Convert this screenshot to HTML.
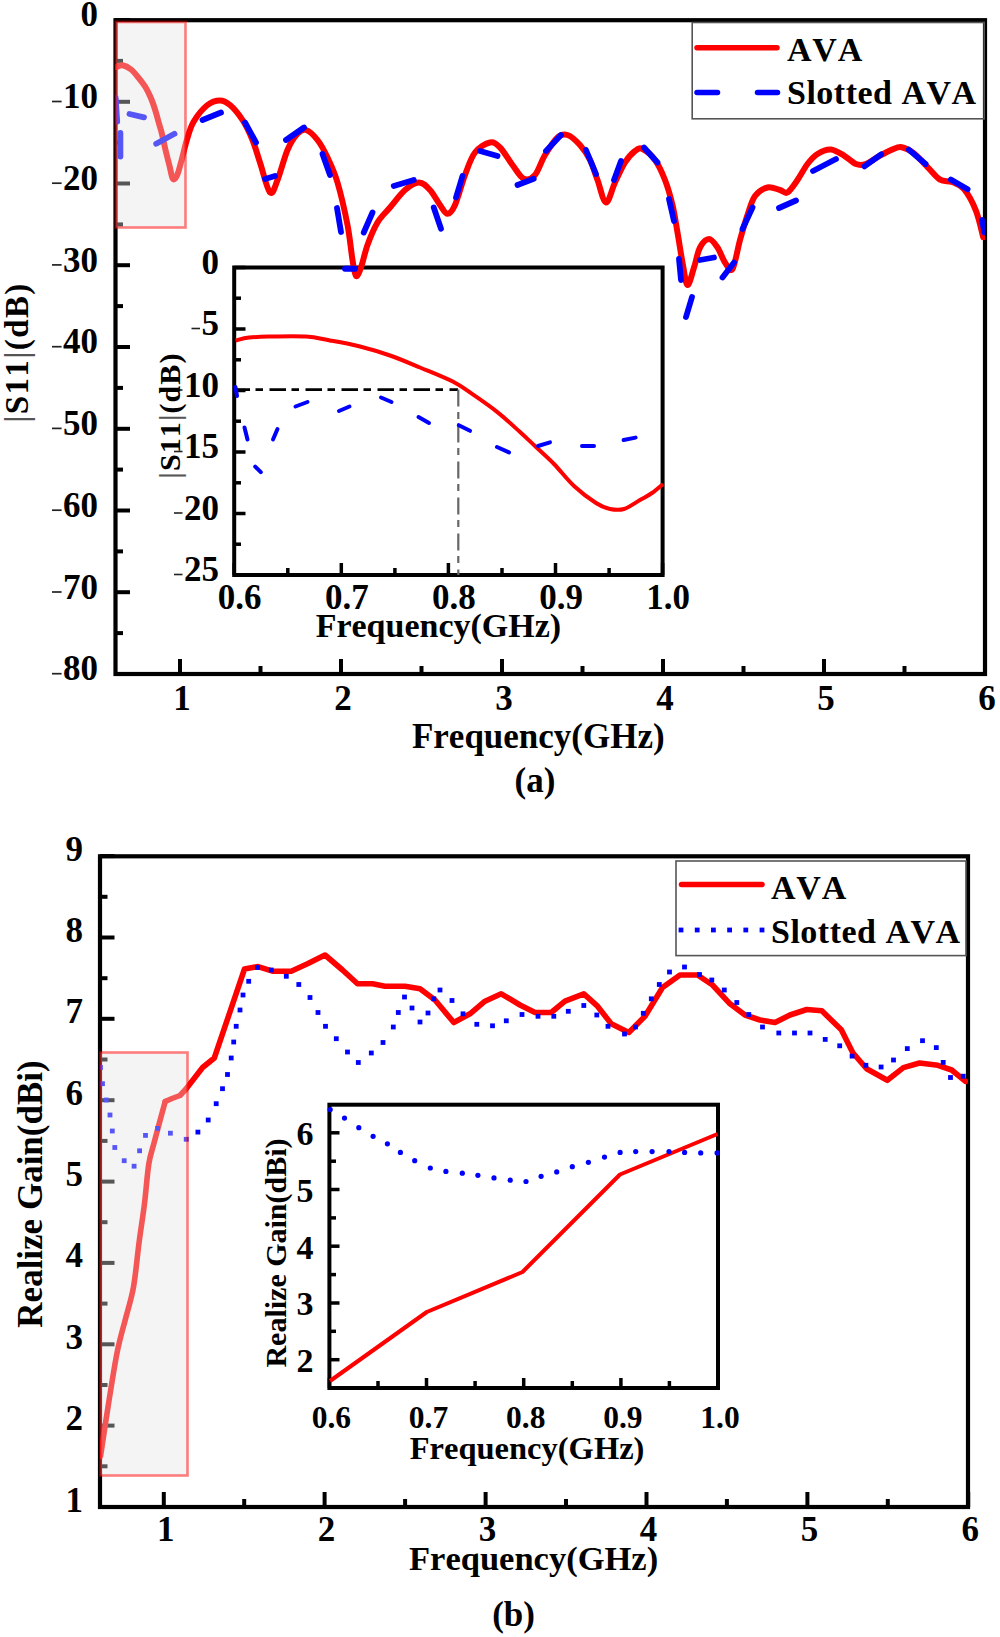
<!DOCTYPE html>
<html><head><meta charset="utf-8"><style>
html,body{margin:0;padding:0;background:#fff;}
svg{display:block;}
text{font-family:"Liberation Serif", serif;font-weight:bold;fill:#000;font-kerning:none;}
</style></head><body>
<svg width="1000" height="1637" viewBox="0 0 1000 1637">
<rect width="1000" height="1637" fill="#fff"/>
<rect x="234.2" y="267.5" width="428.4" height="307.5" fill="none" stroke="#000" stroke-width="4"/>
<line x1="234.2" y1="267.5" x2="245.5" y2="267.5" stroke="#000" stroke-width="3.5"/>
<line x1="234.2" y1="329.0" x2="245.5" y2="329.0" stroke="#000" stroke-width="3.5"/>
<line x1="234.2" y1="390.5" x2="245.5" y2="390.5" stroke="#000" stroke-width="3.5"/>
<line x1="234.2" y1="452.0" x2="245.5" y2="452.0" stroke="#000" stroke-width="3.5"/>
<line x1="234.2" y1="513.5" x2="245.5" y2="513.5" stroke="#000" stroke-width="3.5"/>
<line x1="234.2" y1="575.0" x2="245.5" y2="575.0" stroke="#000" stroke-width="3.5"/>
<line x1="234.2" y1="298.2" x2="241" y2="298.2" stroke="#000" stroke-width="3.5"/>
<line x1="234.2" y1="359.8" x2="241" y2="359.8" stroke="#000" stroke-width="3.5"/>
<line x1="234.2" y1="421.2" x2="241" y2="421.2" stroke="#000" stroke-width="3.5"/>
<line x1="234.2" y1="482.8" x2="241" y2="482.8" stroke="#000" stroke-width="3.5"/>
<line x1="234.2" y1="544.2" x2="241" y2="544.2" stroke="#000" stroke-width="3.5"/>
<line x1="234.2" y1="575" x2="234.2" y2="563" stroke="#000" stroke-width="3.5"/>
<line x1="341.3" y1="575" x2="341.3" y2="563" stroke="#000" stroke-width="3.5"/>
<line x1="448.4" y1="575" x2="448.4" y2="563" stroke="#000" stroke-width="3.5"/>
<line x1="555.5" y1="575" x2="555.5" y2="563" stroke="#000" stroke-width="3.5"/>
<line x1="662.6" y1="575" x2="662.6" y2="563" stroke="#000" stroke-width="3.5"/>
<line x1="287.8" y1="575" x2="287.8" y2="568" stroke="#000" stroke-width="3.5"/>
<line x1="394.9" y1="575" x2="394.9" y2="568" stroke="#000" stroke-width="3.5"/>
<line x1="502.0" y1="575" x2="502.0" y2="568" stroke="#000" stroke-width="3.5"/>
<line x1="609.1" y1="575" x2="609.1" y2="568" stroke="#000" stroke-width="3.5"/>
<text x="219" y="273.5" font-size="35" text-anchor="end" >0</text>
<text x="219" y="335.0" font-size="35" text-anchor="end" >5</text>
<line x1="191.5" y1="328.5" x2="200.0" y2="328.5" stroke="#222" stroke-width="1.6"/>
<text x="219" y="396.5" font-size="35" text-anchor="end" >10</text>
<line x1="174.0" y1="390.0" x2="182.5" y2="390.0" stroke="#222" stroke-width="1.6"/>
<text x="219" y="458.0" font-size="35" text-anchor="end" >15</text>
<line x1="174.0" y1="451.5" x2="182.5" y2="451.5" stroke="#222" stroke-width="1.6"/>
<text x="219" y="519.5" font-size="35" text-anchor="end" >20</text>
<line x1="174.0" y1="513.0" x2="182.5" y2="513.0" stroke="#222" stroke-width="1.6"/>
<text x="219" y="581.0" font-size="35" text-anchor="end" >25</text>
<line x1="174.0" y1="574.5" x2="182.5" y2="574.5" stroke="#222" stroke-width="1.6"/>
<text x="239.7" y="609.2" font-size="35" text-anchor="middle" >0.6</text>
<text x="346.8" y="609.2" font-size="35" text-anchor="middle" >0.7</text>
<text x="453.9" y="609.2" font-size="35" text-anchor="middle" >0.8</text>
<text x="561.0" y="609.2" font-size="35" text-anchor="middle" >0.9</text>
<text x="668.1" y="609.2" font-size="35" text-anchor="middle" >1.0</text>
<text x="438.4" y="636.5" font-size="34" text-anchor="middle" >Frequency(GHz)</text>
<text transform="translate(179.8,415.6) rotate(-90)" x="0" y="0" font-size="30" letter-spacing="1.05" text-anchor="middle"><tspan fill="#555">|</tspan>S11<tspan fill="#555">|</tspan>(dB)</text>
<line x1="235" y1="389.6" x2="458" y2="389.6" stroke="#000" stroke-width="2.6" stroke-dasharray="16.5 5.5 7.5 6.5" stroke-dashoffset="1.5"/>
<line x1="458.3" y1="389.6" x2="458.3" y2="575" stroke="#666" stroke-width="2.2" stroke-dasharray="17 5.5 7 6.5"/>
<path d="M235.5,340.5 C237.8,340.0 243.2,338.1 249.0,337.5 C254.8,336.9 260.5,336.8 270.0,336.6 C279.5,336.5 296.0,336.0 306.0,336.6 C316.0,337.2 321.0,338.9 330.0,340.5 C339.0,342.1 350.0,344.0 360.0,346.5 C370.0,349.0 380.0,352.0 390.0,355.5 C400.0,359.0 409.5,363.1 420.0,367.5 C430.5,371.9 444.4,377.3 453.2,381.8 C462.0,386.3 465.3,389.3 472.8,394.4 C480.3,399.5 490.1,406.3 498.0,412.6 C505.9,418.9 513.7,426.3 520.0,432.0 C526.3,437.7 530.3,441.7 536.0,447.0 C541.7,452.3 547.7,457.5 554.0,464.0 C560.3,470.5 567.0,479.5 574.0,486.0 C581.0,492.5 590.0,499.2 596.0,503.0 C602.0,506.8 605.3,508.0 610.0,509.0 C614.7,510.0 619.0,510.5 624.0,509.0 C629.0,507.5 635.3,502.7 640.0,500.0 C644.7,497.3 648.2,495.7 652.0,493.0 C655.8,490.3 661.2,485.5 663.0,484.0" fill="none" stroke="#f00" stroke-width="4" stroke-linejoin="round"/>
<line x1="235.5" y1="387" x2="237" y2="396" stroke="#00f" stroke-width="4" stroke-linecap="round"/>
<line x1="244.5" y1="427.5" x2="247.5" y2="439.5" stroke="#00f" stroke-width="4" stroke-linecap="round"/>
<line x1="255.2" y1="466.6" x2="260.8" y2="472.2" stroke="#00f" stroke-width="4" stroke-linecap="round"/>
<line x1="273" y1="439.5" x2="277.5" y2="429" stroke="#00f" stroke-width="4" stroke-linecap="round"/>
<line x1="295.5" y1="406.5" x2="307.5" y2="402" stroke="#00f" stroke-width="4" stroke-linecap="round"/>
<line x1="339" y1="411" x2="349.5" y2="406.5" stroke="#00f" stroke-width="4" stroke-linecap="round"/>
<line x1="381" y1="397.5" x2="391.5" y2="402" stroke="#00f" stroke-width="4" stroke-linecap="round"/>
<line x1="418.5" y1="417" x2="429" y2="423" stroke="#00f" stroke-width="4" stroke-linecap="round"/>
<line x1="458.8" y1="425.2" x2="470" y2="430.8" stroke="#00f" stroke-width="4" stroke-linecap="round"/>
<line x1="497" y1="447" x2="509" y2="452.4" stroke="#00f" stroke-width="4" stroke-linecap="round"/>
<line x1="538" y1="446" x2="550" y2="442.4" stroke="#00f" stroke-width="4" stroke-linecap="round"/>
<line x1="582" y1="446" x2="594" y2="446" stroke="#00f" stroke-width="4" stroke-linecap="round"/>
<line x1="623.6" y1="440" x2="635.6" y2="437.6" stroke="#00f" stroke-width="4" stroke-linecap="round"/>
<rect x="115.5" y="20.2" width="869.5" height="653.8" fill="none" stroke="#000" stroke-width="4.2"/>
<line x1="115.5" y1="20.0" x2="130" y2="20.0" stroke="#000" stroke-width="4"/>
<line x1="115.5" y1="101.8" x2="130" y2="101.8" stroke="#000" stroke-width="4"/>
<line x1="115.5" y1="183.5" x2="130" y2="183.5" stroke="#000" stroke-width="4"/>
<line x1="115.5" y1="265.2" x2="130" y2="265.2" stroke="#000" stroke-width="4"/>
<line x1="115.5" y1="347.0" x2="130" y2="347.0" stroke="#000" stroke-width="4"/>
<line x1="115.5" y1="428.8" x2="130" y2="428.8" stroke="#000" stroke-width="4"/>
<line x1="115.5" y1="510.5" x2="130" y2="510.5" stroke="#000" stroke-width="4"/>
<line x1="115.5" y1="592.2" x2="130" y2="592.2" stroke="#000" stroke-width="4"/>
<line x1="115.5" y1="674.0" x2="130" y2="674.0" stroke="#000" stroke-width="4"/>
<line x1="115.5" y1="60.9" x2="123" y2="60.9" stroke="#000" stroke-width="4"/>
<line x1="115.5" y1="142.6" x2="123" y2="142.6" stroke="#000" stroke-width="4"/>
<line x1="115.5" y1="224.4" x2="123" y2="224.4" stroke="#000" stroke-width="4"/>
<line x1="115.5" y1="306.1" x2="123" y2="306.1" stroke="#000" stroke-width="4"/>
<line x1="115.5" y1="387.9" x2="123" y2="387.9" stroke="#000" stroke-width="4"/>
<line x1="115.5" y1="469.6" x2="123" y2="469.6" stroke="#000" stroke-width="4"/>
<line x1="115.5" y1="551.4" x2="123" y2="551.4" stroke="#000" stroke-width="4"/>
<line x1="115.5" y1="633.1" x2="123" y2="633.1" stroke="#000" stroke-width="4"/>
<line x1="180.0" y1="674" x2="180.0" y2="659" stroke="#000" stroke-width="4"/>
<line x1="341.0" y1="674" x2="341.0" y2="659" stroke="#000" stroke-width="4"/>
<line x1="502.0" y1="674" x2="502.0" y2="659" stroke="#000" stroke-width="4"/>
<line x1="663.0" y1="674" x2="663.0" y2="659" stroke="#000" stroke-width="4"/>
<line x1="824.0" y1="674" x2="824.0" y2="659" stroke="#000" stroke-width="4"/>
<line x1="985.0" y1="674" x2="985.0" y2="659" stroke="#000" stroke-width="4"/>
<line x1="260.5" y1="674" x2="260.5" y2="666" stroke="#000" stroke-width="4"/>
<line x1="421.5" y1="674" x2="421.5" y2="666" stroke="#000" stroke-width="4"/>
<line x1="582.5" y1="674" x2="582.5" y2="666" stroke="#000" stroke-width="4"/>
<line x1="743.5" y1="674" x2="743.5" y2="666" stroke="#000" stroke-width="4"/>
<line x1="904.5" y1="674" x2="904.5" y2="666" stroke="#000" stroke-width="4"/>
<text x="98" y="26.4" font-size="35" text-anchor="end" >0</text>
<text x="98" y="108.2" font-size="35" text-anchor="end" >10</text>
<line x1="52" y1="101.5" x2="61.6" y2="101.5" stroke="#222" stroke-width="1.7"/>
<text x="98" y="189.9" font-size="35" text-anchor="end" >20</text>
<line x1="52" y1="183.2" x2="61.6" y2="183.2" stroke="#222" stroke-width="1.7"/>
<text x="98" y="271.6" font-size="35" text-anchor="end" >30</text>
<line x1="52" y1="264.9" x2="61.6" y2="264.9" stroke="#222" stroke-width="1.7"/>
<text x="98" y="353.4" font-size="35" text-anchor="end" >40</text>
<line x1="52" y1="346.7" x2="61.6" y2="346.7" stroke="#222" stroke-width="1.7"/>
<text x="98" y="435.1" font-size="35" text-anchor="end" >50</text>
<line x1="52" y1="428.4" x2="61.6" y2="428.4" stroke="#222" stroke-width="1.7"/>
<text x="98" y="516.9" font-size="35" text-anchor="end" >60</text>
<line x1="52" y1="510.2" x2="61.6" y2="510.2" stroke="#222" stroke-width="1.7"/>
<text x="98" y="598.6" font-size="35" text-anchor="end" >70</text>
<line x1="52" y1="592.0" x2="61.6" y2="592.0" stroke="#222" stroke-width="1.7"/>
<text x="98" y="680.4" font-size="35" text-anchor="end" >80</text>
<line x1="52" y1="673.7" x2="61.6" y2="673.7" stroke="#222" stroke-width="1.7"/>
<text x="182.0" y="710" font-size="35" text-anchor="middle" >1</text>
<text x="343.0" y="710" font-size="35" text-anchor="middle" >2</text>
<text x="504.0" y="710" font-size="35" text-anchor="middle" >3</text>
<text x="665.0" y="710" font-size="35" text-anchor="middle" >4</text>
<text x="826.0" y="710" font-size="35" text-anchor="middle" >5</text>
<text x="987.0" y="710" font-size="35" text-anchor="middle" >6</text>
<text x="538.3" y="748.4" font-size="35" text-anchor="middle" >Frequency(GHz)</text>
<text x="535" y="791.5" font-size="35" text-anchor="middle" >(a)</text>
<text transform="translate(28.3,352.6) rotate(-90)" x="0" y="0" font-size="33" letter-spacing="1.35" text-anchor="middle"><tspan fill="#555">|</tspan>S11<tspan fill="#555">|</tspan>(dB)</text>
<defs><clipPath id="ct"><rect x="115" y="20" width="870" height="654"/></clipPath><clipPath id="cb"><rect x="100" y="856" width="868" height="651"/></clipPath></defs>
<g clip-path="url(#ct)">
<path d="M116.6,67.0 C117.6,66.7 120.2,64.9 122.6,65.3 C125.0,65.7 128.4,67.4 131.1,69.5 C133.8,71.6 136.4,75.1 138.8,78.1 C141.2,81.1 143.7,84.2 145.7,87.5 C147.7,90.8 149.2,94.1 150.8,97.8 C152.4,101.5 153.8,105.7 155.1,109.7 C156.4,113.7 157.4,117.7 158.5,121.7 C159.6,125.7 160.8,129.1 161.9,133.7 C163.0,138.3 164.0,143.7 165.3,149.1 C166.6,154.5 168.3,161.2 169.6,166.2 C170.9,171.2 171.7,177.6 173.0,179.0 C174.3,180.4 175.9,177.9 177.3,174.8 C178.7,171.7 180.0,165.9 181.6,160.2 C183.2,154.5 184.7,146.9 186.7,140.5 C188.7,134.1 190.1,127.6 193.6,121.7 C197.1,115.8 203.1,108.5 207.5,105.0 C211.9,101.5 216.2,100.5 220.0,100.5 C223.8,100.5 226.2,101.8 230.0,105.0 C233.8,108.2 238.8,114.2 242.5,120.0 C246.2,125.8 249.6,132.9 252.5,140.0 C255.4,147.1 257.1,153.8 260.0,162.5 C262.9,171.2 267.1,189.6 270.0,192.5 C272.9,195.4 274.6,187.1 277.5,180.0 C280.4,172.9 284.2,157.7 287.5,150.0 C290.8,142.3 294.4,137.1 297.5,133.8 C300.6,130.4 302.7,129.0 306.0,130.0 C309.3,131.0 313.9,135.4 317.5,140.0 C321.1,144.6 324.2,150.4 327.5,157.5 C330.8,164.6 334.2,171.2 337.5,182.5 C340.8,193.8 345.0,212.1 347.5,225.0 C350.0,237.9 351.1,251.5 352.5,260.0 C353.9,268.5 354.6,274.8 356.0,276.0 C357.4,277.2 359.1,272.7 361.0,267.5 C362.9,262.3 364.8,252.5 367.5,245.0 C370.2,237.5 373.8,228.8 377.5,222.5 C381.2,216.2 385.4,212.9 390.0,207.5 C394.6,202.1 400.2,194.2 405.0,190.0 C409.8,185.8 414.8,182.5 419.0,182.5 C423.2,182.5 426.5,186.2 430.0,190.0 C433.5,193.8 437.1,201.0 440.0,205.0 C442.9,209.0 445.0,213.8 447.5,213.8 C450.0,213.8 452.1,211.5 455.0,205.0 C457.9,198.5 461.7,183.8 465.0,175.0 C468.3,166.2 470.8,157.9 475.0,152.5 C479.2,147.1 485.8,143.3 490.0,142.5 C494.2,141.7 496.2,143.8 500.0,147.5 C503.8,151.2 508.5,159.8 512.5,165.0 C516.5,170.2 520.0,177.1 523.8,178.8 C527.5,180.4 531.5,179.0 535.0,175.0 C538.5,171.0 541.2,161.2 545.0,155.0 C548.8,148.8 553.8,140.8 557.5,137.5 C561.2,134.2 563.8,133.8 567.5,135.0 C571.2,136.2 576.2,140.8 580.0,145.0 C583.8,149.2 587.1,154.2 590.0,160.0 C592.9,165.8 594.8,172.9 597.5,180.0 C600.2,187.1 603.1,202.1 606.0,202.5 C608.9,202.9 611.8,189.2 615.0,182.5 C618.2,175.8 621.7,167.8 625.0,162.5 C628.3,157.2 632.1,153.2 635.0,151.0 C637.9,148.8 639.2,147.5 642.5,149.0 C645.8,150.5 651.2,154.8 655.0,160.0 C658.8,165.2 662.1,172.5 665.0,180.0 C667.9,187.5 670.4,196.2 672.5,205.0 C674.6,213.8 675.8,222.9 677.5,232.5 C679.2,242.1 680.8,253.8 682.5,262.5 C684.2,271.2 685.6,284.2 687.5,285.0 C689.4,285.8 691.9,273.8 694.0,267.5 C696.1,261.2 697.5,252.2 700.0,247.5 C702.5,242.8 706.1,239.0 709.0,239.0 C711.9,239.0 714.8,243.6 717.5,247.5 C720.2,251.4 722.5,258.9 725.0,262.5 C727.5,266.1 730.0,272.8 732.5,269.0 C735.0,265.2 737.5,249.0 740.0,240.0 C742.5,231.0 745.0,222.3 747.5,215.0 C750.0,207.7 751.7,200.6 755.0,196.0 C758.3,191.4 763.3,188.5 767.5,187.5 C771.7,186.5 776.7,189.2 780.0,190.0 C783.3,190.8 784.6,194.2 787.5,192.5 C790.4,190.8 794.2,184.8 797.5,180.0 C800.8,175.2 804.2,168.3 807.5,164.0 C810.8,159.7 813.6,156.4 817.5,154.0 C821.4,151.6 826.4,149.3 830.8,149.6 C835.2,149.9 839.8,153.2 844.0,155.6 C848.2,158.0 852.4,162.6 856.0,164.0 C859.6,165.4 861.6,165.4 865.6,164.0 C869.6,162.6 875.6,158.0 880.0,155.6 C884.4,153.2 888.4,151.0 892.0,149.6 C895.6,148.2 898.0,146.6 901.6,147.2 C905.2,147.8 909.2,149.8 913.6,153.2 C918.0,156.6 923.6,163.2 928.0,167.6 C932.4,172.0 936.0,177.2 940.0,179.6 C944.0,182.0 948.0,180.4 952.0,182.0 C956.0,183.6 960.0,184.4 964.0,189.2 C968.0,194.0 972.8,202.8 976.0,210.8 C979.2,218.8 982.0,232.8 983.2,237.2" fill="none" stroke="#f00" stroke-width="6" stroke-linejoin="round" stroke-linecap="round"/>
<line x1="115.7" y1="98" x2="117.2" y2="121.7" stroke="#00f" stroke-width="5.8" stroke-linecap="round"/>
<line x1="129.5" y1="114" x2="144" y2="117.4" stroke="#00f" stroke-width="5.8" stroke-linecap="round"/>
<line x1="120.4" y1="133" x2="120.4" y2="156.5" stroke="#00f" stroke-width="5.8" stroke-linecap="round"/>
<line x1="156.2" y1="143.8" x2="174.5" y2="133.8" stroke="#00f" stroke-width="5.8" stroke-linecap="round"/>
<line x1="202.5" y1="120" x2="221" y2="112.5" stroke="#00f" stroke-width="5.8" stroke-linecap="round"/>
<line x1="245" y1="122.5" x2="256" y2="142.5" stroke="#00f" stroke-width="5.8" stroke-linecap="round"/>
<line x1="265" y1="179" x2="275" y2="176" stroke="#00f" stroke-width="5.8" stroke-linecap="round"/>
<line x1="286" y1="140" x2="304" y2="127.5" stroke="#00f" stroke-width="5.8" stroke-linecap="round"/>
<line x1="322.5" y1="154" x2="330" y2="175" stroke="#00f" stroke-width="5.8" stroke-linecap="round"/>
<line x1="337" y1="208" x2="341" y2="232" stroke="#00f" stroke-width="5.8" stroke-linecap="round"/>
<line x1="345" y1="268.75" x2="355" y2="268.75" stroke="#00f" stroke-width="5.8" stroke-linecap="round"/>
<line x1="363.75" y1="232.5" x2="372.5" y2="212.5" stroke="#00f" stroke-width="5.8" stroke-linecap="round"/>
<line x1="393.75" y1="186" x2="413.75" y2="180" stroke="#00f" stroke-width="5.8" stroke-linecap="round"/>
<line x1="433.75" y1="207.5" x2="441" y2="228.75" stroke="#00f" stroke-width="5.8" stroke-linecap="round"/>
<line x1="456" y1="197.5" x2="462.5" y2="176" stroke="#00f" stroke-width="5.8" stroke-linecap="round"/>
<line x1="480" y1="151" x2="497.5" y2="156" stroke="#00f" stroke-width="5.8" stroke-linecap="round"/>
<line x1="517.5" y1="185" x2="533.75" y2="178.75" stroke="#00f" stroke-width="5.8" stroke-linecap="round"/>
<line x1="546" y1="151" x2="561" y2="135" stroke="#00f" stroke-width="5.8" stroke-linecap="round"/>
<line x1="586" y1="150" x2="596" y2="174" stroke="#00f" stroke-width="5.8" stroke-linecap="round"/>
<line x1="614" y1="180" x2="621" y2="161" stroke="#00f" stroke-width="5.8" stroke-linecap="round"/>
<line x1="644" y1="147.5" x2="657.5" y2="162.5" stroke="#00f" stroke-width="5.8" stroke-linecap="round"/>
<line x1="669" y1="199" x2="674" y2="221" stroke="#00f" stroke-width="5.8" stroke-linecap="round"/>
<line x1="679" y1="259" x2="681" y2="280" stroke="#00f" stroke-width="5.8" stroke-linecap="round"/>
<line x1="692" y1="297" x2="686" y2="317" stroke="#00f" stroke-width="5.8" stroke-linecap="round"/>
<line x1="700" y1="260" x2="714" y2="257.5" stroke="#00f" stroke-width="5.8" stroke-linecap="round"/>
<line x1="722.5" y1="277.5" x2="734" y2="262.5" stroke="#00f" stroke-width="5.8" stroke-linecap="round"/>
<line x1="742.5" y1="229" x2="752.5" y2="207.5" stroke="#00f" stroke-width="5.8" stroke-linecap="round"/>
<line x1="779" y1="208" x2="796" y2="200.5" stroke="#00f" stroke-width="5.8" stroke-linecap="round"/>
<line x1="813" y1="171" x2="836" y2="159" stroke="#00f" stroke-width="5.8" stroke-linecap="round"/>
<line x1="864.4" y1="166.4" x2="881.2" y2="154.4" stroke="#00f" stroke-width="5.8" stroke-linecap="round"/>
<line x1="908.8" y1="149.6" x2="925.6" y2="164" stroke="#00f" stroke-width="5.8" stroke-linecap="round"/>
<line x1="950.8" y1="179.6" x2="967.6" y2="189.2" stroke="#00f" stroke-width="5.8" stroke-linecap="round"/>
<line x1="982" y1="220" x2="984.4" y2="232.4" stroke="#00f" stroke-width="5.8" stroke-linecap="round"/>
</g>
<rect x="116" y="22" width="69.5" height="205.5" fill="rgb(225,225,225)" fill-opacity="0.38" stroke="rgba(255,0,0,0.5)" stroke-width="2.6"/>
<rect x="692.2" y="22.5" width="292" height="96.3" fill="none" stroke="#555" stroke-width="1.6"/>
<line x1="697" y1="47.8" x2="777" y2="47.8" stroke="#f00" stroke-width="5.5" stroke-linecap="round"/>
<line x1="697" y1="92.6" x2="717.5" y2="92.6" stroke="#00f" stroke-width="5.5" stroke-linecap="round"/>
<line x1="757.5" y1="92.6" x2="777.5" y2="92.6" stroke="#00f" stroke-width="5.5" stroke-linecap="round"/>
<text x="787" y="61.2" font-size="34" text-anchor="start" letter-spacing="0.8">AVA</text>
<text x="787" y="104.4" font-size="34" text-anchor="start" letter-spacing="0.5">Slotted AVA</text>
<rect x="329.4" y="1104.7" width="388.6" height="283.3" fill="none" stroke="#000" stroke-width="4"/>
<line x1="329.4" y1="1359.7" x2="339.5" y2="1359.7" stroke="#000" stroke-width="3.5"/>
<line x1="329.4" y1="1303.0" x2="339.5" y2="1303.0" stroke="#000" stroke-width="3.5"/>
<line x1="329.4" y1="1246.2" x2="339.5" y2="1246.2" stroke="#000" stroke-width="3.5"/>
<line x1="329.4" y1="1189.5" x2="339.5" y2="1189.5" stroke="#000" stroke-width="3.5"/>
<line x1="329.4" y1="1132.8" x2="339.5" y2="1132.8" stroke="#000" stroke-width="3.5"/>
<line x1="329.4" y1="1388.0" x2="336" y2="1388.0" stroke="#000" stroke-width="3.5"/>
<line x1="329.4" y1="1331.3" x2="336" y2="1331.3" stroke="#000" stroke-width="3.5"/>
<line x1="329.4" y1="1274.6" x2="336" y2="1274.6" stroke="#000" stroke-width="3.5"/>
<line x1="329.4" y1="1217.9" x2="336" y2="1217.9" stroke="#000" stroke-width="3.5"/>
<line x1="329.4" y1="1161.2" x2="336" y2="1161.2" stroke="#000" stroke-width="3.5"/>
<line x1="329.4" y1="1388" x2="329.4" y2="1378" stroke="#000" stroke-width="3.5"/>
<line x1="426.5" y1="1388" x2="426.5" y2="1378" stroke="#000" stroke-width="3.5"/>
<line x1="523.7" y1="1388" x2="523.7" y2="1378" stroke="#000" stroke-width="3.5"/>
<line x1="620.9" y1="1388" x2="620.9" y2="1378" stroke="#000" stroke-width="3.5"/>
<line x1="718.0" y1="1388" x2="718.0" y2="1378" stroke="#000" stroke-width="3.5"/>
<line x1="378.0" y1="1388" x2="378.0" y2="1381" stroke="#000" stroke-width="3.5"/>
<line x1="475.1" y1="1388" x2="475.1" y2="1381" stroke="#000" stroke-width="3.5"/>
<line x1="572.3" y1="1388" x2="572.3" y2="1381" stroke="#000" stroke-width="3.5"/>
<line x1="669.4" y1="1388" x2="669.4" y2="1381" stroke="#000" stroke-width="3.5"/>
<text x="313.5" y="1372.1" font-size="34" text-anchor="end" >2</text>
<text x="313.5" y="1315.4" font-size="34" text-anchor="end" >3</text>
<text x="313.5" y="1258.7" font-size="34" text-anchor="end" >4</text>
<text x="313.5" y="1202.0" font-size="34" text-anchor="end" >5</text>
<text x="313.5" y="1145.2" font-size="34" text-anchor="end" >6</text>
<text x="331.4" y="1428" font-size="31.5" text-anchor="middle" >0.6</text>
<text x="428.5" y="1428" font-size="31.5" text-anchor="middle" >0.7</text>
<text x="525.7" y="1428" font-size="31.5" text-anchor="middle" >0.8</text>
<text x="622.9" y="1428" font-size="31.5" text-anchor="middle" >0.9</text>
<text x="720.0" y="1428" font-size="31.5" text-anchor="middle" >1.0</text>
<text x="527.1" y="1458.5" font-size="32.5" text-anchor="middle" >Frequency(GHz)</text>
<text transform="translate(285.6,1253) rotate(-90)" x="0" y="0" font-size="30" text-anchor="middle">Realize Gain(dBi)</text>
<path d="M330.0,1381.0 L426.8,1312.0 L522.5,1272.0 L620.0,1174.5 L717.5,1134.0" fill="none" stroke="#f00" stroke-width="4" stroke-linejoin="round"/>
<circle cx="330.2" cy="1109.5" r="2.6" fill="#00f"/>
<circle cx="344.5" cy="1118.1" r="2.6" fill="#00f"/>
<circle cx="358.8" cy="1127.7" r="2.6" fill="#00f"/>
<circle cx="373.1" cy="1136.3" r="2.6" fill="#00f"/>
<circle cx="387.4" cy="1143.8" r="2.6" fill="#00f"/>
<circle cx="400.4" cy="1152.4" r="2.6" fill="#00f"/>
<circle cx="414.7" cy="1160.7" r="2.6" fill="#00f"/>
<circle cx="430.3" cy="1168.0" r="2.6" fill="#00f"/>
<circle cx="445.9" cy="1171.4" r="2.6" fill="#00f"/>
<circle cx="462.3" cy="1173.2" r="2.6" fill="#00f"/>
<circle cx="477.9" cy="1175.3" r="2.6" fill="#00f"/>
<circle cx="494.0" cy="1177.9" r="2.6" fill="#00f"/>
<circle cx="510.2" cy="1180.2" r="2.6" fill="#00f"/>
<circle cx="526.0" cy="1181.5" r="2.6" fill="#00f"/>
<circle cx="541.1" cy="1176.3" r="2.6" fill="#00f"/>
<circle cx="556.7" cy="1171.9" r="2.6" fill="#00f"/>
<circle cx="572.3" cy="1166.7" r="2.6" fill="#00f"/>
<circle cx="588.4" cy="1162.3" r="2.6" fill="#00f"/>
<circle cx="604.5" cy="1157.1" r="2.6" fill="#00f"/>
<circle cx="620.1" cy="1152.4" r="2.6" fill="#00f"/>
<circle cx="635.7" cy="1151.6" r="2.6" fill="#00f"/>
<circle cx="652.1" cy="1151.6" r="2.6" fill="#00f"/>
<circle cx="669.0" cy="1151.6" r="2.6" fill="#00f"/>
<circle cx="684.6" cy="1152.4" r="2.6" fill="#00f"/>
<circle cx="700.7" cy="1152.9" r="2.6" fill="#00f"/>
<circle cx="717.1" cy="1152.9" r="2.6" fill="#00f"/>
<rect x="100" y="856.3" width="868" height="650.7" fill="none" stroke="#000" stroke-width="4.2"/>
<line x1="100" y1="1507.0" x2="114.5" y2="1507.0" stroke="#000" stroke-width="4"/>
<line x1="100" y1="1425.6" x2="114.5" y2="1425.6" stroke="#000" stroke-width="4"/>
<line x1="100" y1="1344.3" x2="114.5" y2="1344.3" stroke="#000" stroke-width="4"/>
<line x1="100" y1="1262.9" x2="114.5" y2="1262.9" stroke="#000" stroke-width="4"/>
<line x1="100" y1="1181.6" x2="114.5" y2="1181.6" stroke="#000" stroke-width="4"/>
<line x1="100" y1="1100.2" x2="114.5" y2="1100.2" stroke="#000" stroke-width="4"/>
<line x1="100" y1="1018.8" x2="114.5" y2="1018.8" stroke="#000" stroke-width="4"/>
<line x1="100" y1="937.5" x2="114.5" y2="937.5" stroke="#000" stroke-width="4"/>
<line x1="100" y1="856.1" x2="114.5" y2="856.1" stroke="#000" stroke-width="4"/>
<line x1="100" y1="1466.3" x2="107.5" y2="1466.3" stroke="#000" stroke-width="4"/>
<line x1="100" y1="1385.0" x2="107.5" y2="1385.0" stroke="#000" stroke-width="4"/>
<line x1="100" y1="1303.6" x2="107.5" y2="1303.6" stroke="#000" stroke-width="4"/>
<line x1="100" y1="1222.2" x2="107.5" y2="1222.2" stroke="#000" stroke-width="4"/>
<line x1="100" y1="1140.9" x2="107.5" y2="1140.9" stroke="#000" stroke-width="4"/>
<line x1="100" y1="1059.5" x2="107.5" y2="1059.5" stroke="#000" stroke-width="4"/>
<line x1="100" y1="978.2" x2="107.5" y2="978.2" stroke="#000" stroke-width="4"/>
<line x1="100" y1="896.8" x2="107.5" y2="896.8" stroke="#000" stroke-width="4"/>
<line x1="163.8" y1="1507" x2="163.8" y2="1492" stroke="#000" stroke-width="4"/>
<line x1="324.6" y1="1507" x2="324.6" y2="1492" stroke="#000" stroke-width="4"/>
<line x1="485.6" y1="1507" x2="485.6" y2="1492" stroke="#000" stroke-width="4"/>
<line x1="646.5" y1="1507" x2="646.5" y2="1492" stroke="#000" stroke-width="4"/>
<line x1="807.4" y1="1507" x2="807.4" y2="1492" stroke="#000" stroke-width="4"/>
<line x1="968.2" y1="1507" x2="968.2" y2="1492" stroke="#000" stroke-width="4"/>
<line x1="244.2" y1="1507" x2="244.2" y2="1499" stroke="#000" stroke-width="4"/>
<line x1="405.1" y1="1507" x2="405.1" y2="1499" stroke="#000" stroke-width="4"/>
<line x1="566.0" y1="1507" x2="566.0" y2="1499" stroke="#000" stroke-width="4"/>
<line x1="726.9" y1="1507" x2="726.9" y2="1499" stroke="#000" stroke-width="4"/>
<line x1="887.8" y1="1507" x2="887.8" y2="1499" stroke="#000" stroke-width="4"/>
<text x="83" y="1511.5" font-size="35" text-anchor="end" >1</text>
<text x="83" y="1430.1" font-size="35" text-anchor="end" >2</text>
<text x="83" y="1348.8" font-size="35" text-anchor="end" >3</text>
<text x="83" y="1267.4" font-size="35" text-anchor="end" >4</text>
<text x="83" y="1186.1" font-size="35" text-anchor="end" >5</text>
<text x="83" y="1104.7" font-size="35" text-anchor="end" >6</text>
<text x="83" y="1023.3" font-size="35" text-anchor="end" >7</text>
<text x="83" y="942.0" font-size="35" text-anchor="end" >8</text>
<text x="83" y="860.6" font-size="35" text-anchor="end" >9</text>
<text x="165.8" y="1540.5" font-size="35" text-anchor="middle" >1</text>
<text x="326.6" y="1540.5" font-size="35" text-anchor="middle" >2</text>
<text x="487.6" y="1540.5" font-size="35" text-anchor="middle" >3</text>
<text x="648.5" y="1540.5" font-size="35" text-anchor="middle" >4</text>
<text x="809.4" y="1540.5" font-size="35" text-anchor="middle" >5</text>
<text x="970.2" y="1540.5" font-size="35" text-anchor="middle" >6</text>
<text x="533.6" y="1569.5" font-size="34.5" text-anchor="middle" >Frequency(GHz)</text>
<text x="513.6" y="1626" font-size="35" text-anchor="middle" >(b)</text>
<text transform="translate(42,1194) rotate(-90)" x="0" y="0" font-size="35" text-anchor="middle">Realize Gain(dBi)</text>
<g clip-path="url(#cb)">
<path d="M100.5,1456.3 C101.8,1447.9 105.5,1422.9 108.2,1405.7 C111.0,1388.5 114.1,1367.7 117.0,1353.0 C119.9,1338.3 123.0,1328.8 125.8,1317.8 C128.6,1306.8 131.3,1299.5 133.5,1287.0 C135.7,1274.5 137.2,1256.9 139.0,1243.0 C140.8,1229.1 142.9,1216.7 144.5,1203.5 C146.1,1190.3 147.2,1174.2 148.8,1164.0 C150.4,1153.8 151.6,1152.4 154.3,1142.0 C157.0,1131.6 163.4,1108.2 165.2,1101.5" fill="none" stroke="#f00" stroke-width="5.6" stroke-linejoin="round" stroke-linecap="round"/>
<path d="M165.2,1101.5 L172.0,1098.5 L180.0,1095.5 L186.0,1089.0 L202.6,1067.5 L214.3,1058.0 L244.5,969.0 L258.0,966.6 L272.5,971.2 L291.2,971.2 L307.5,963.8 L325.0,955.0 L342.5,970.0 L357.5,983.8 L372.5,983.8 L385.0,986.2 L405.0,986.2 L420.0,988.8 L435.0,1000.0 L453.8,1022.5 L470.0,1013.8 L485.0,1001.2 L501.2,993.8 L520.0,1005.0 L535.0,1012.5 L551.2,1012.5 L565.0,1001.2 L583.8,993.8 L597.5,1006.2 L611.2,1023.8 L628.8,1032.5 L645.0,1016.2 L662.5,987.5 L680.0,975.0 L697.5,975.0 L712.5,985.0 L730.0,1003.8 L745.0,1015.0 L760.0,1020.0 L775.0,1022.5 L790.0,1015.0 L806.8,1009.5 L821.8,1010.8 L841.3,1029.7 L852.8,1052.7 L866.6,1068.8 L887.3,1080.3 L903.4,1067.6 L919.5,1063.0 L937.9,1065.3 L951.7,1070.0 L965.5,1081.4" fill="none" stroke="#f00" stroke-width="5.6" stroke-linejoin="round" stroke-linecap="round"/>
<rect x="98.1" y="1065.1" width="4.8" height="4.8" fill="#00f"/>
<rect x="100.1" y="1081.3" width="4.8" height="4.8" fill="#00f"/>
<rect x="103.8" y="1097.6" width="4.8" height="4.8" fill="#00f"/>
<rect x="107.6" y="1112.6" width="4.8" height="4.8" fill="#00f"/>
<rect x="109.9" y="1128.6" width="4.8" height="4.8" fill="#00f"/>
<rect x="112.4" y="1145.1" width="4.8" height="4.8" fill="#00f"/>
<rect x="121.8" y="1158.3" width="4.8" height="4.8" fill="#00f"/>
<rect x="131.7" y="1163.8" width="4.8" height="4.8" fill="#00f"/>
<rect x="137.2" y="1148.4" width="4.8" height="4.8" fill="#00f"/>
<rect x="143.1" y="1133.0" width="4.8" height="4.8" fill="#00f"/>
<rect x="155.2" y="1126.0" width="4.8" height="4.8" fill="#00f"/>
<rect x="168.0" y="1130.8" width="4.8" height="4.8" fill="#00f"/>
<rect x="183.8" y="1136.9" width="4.8" height="4.8" fill="#00f"/>
<rect x="195.5" y="1129.7" width="4.8" height="4.8" fill="#00f"/>
<rect x="205.8" y="1117.6" width="4.8" height="4.8" fill="#00f"/>
<rect x="213.8" y="1101.3" width="4.8" height="4.8" fill="#00f"/>
<rect x="220.1" y="1086.3" width="4.8" height="4.8" fill="#00f"/>
<rect x="225.1" y="1072.1" width="4.8" height="4.8" fill="#00f"/>
<rect x="228.8" y="1055.6" width="4.8" height="4.8" fill="#00f"/>
<rect x="231.3" y="1039.6" width="4.8" height="4.8" fill="#00f"/>
<rect x="233.8" y="1023.9" width="4.8" height="4.8" fill="#00f"/>
<rect x="237.6" y="1007.6" width="4.8" height="4.8" fill="#00f"/>
<rect x="240.6" y="992.6" width="4.8" height="4.8" fill="#00f"/>
<rect x="246.3" y="978.9" width="4.8" height="4.8" fill="#00f"/>
<rect x="255.1" y="965.1" width="4.8" height="4.8" fill="#00f"/>
<rect x="268.9" y="967.6" width="4.8" height="4.8" fill="#00f"/>
<rect x="283.9" y="973.9" width="4.8" height="4.8" fill="#00f"/>
<rect x="296.4" y="982.1" width="4.8" height="4.8" fill="#00f"/>
<rect x="307.6" y="995.1" width="4.8" height="4.8" fill="#00f"/>
<rect x="315.6" y="1010.1" width="4.8" height="4.8" fill="#00f"/>
<rect x="323.1" y="1023.9" width="4.8" height="4.8" fill="#00f"/>
<rect x="333.9" y="1036.3" width="4.8" height="4.8" fill="#00f"/>
<rect x="345.1" y="1049.6" width="4.8" height="4.8" fill="#00f"/>
<rect x="355.9" y="1060.1" width="4.8" height="4.8" fill="#00f"/>
<rect x="368.9" y="1050.6" width="4.8" height="4.8" fill="#00f"/>
<rect x="380.6" y="1040.1" width="4.8" height="4.8" fill="#00f"/>
<rect x="390.9" y="1024.6" width="4.8" height="4.8" fill="#00f"/>
<rect x="395.9" y="1010.1" width="4.8" height="4.8" fill="#00f"/>
<rect x="402.1" y="994.6" width="4.8" height="4.8" fill="#00f"/>
<rect x="409.6" y="1005.6" width="4.8" height="4.8" fill="#00f"/>
<rect x="417.6" y="1019.6" width="4.8" height="4.8" fill="#00f"/>
<rect x="425.6" y="1010.6" width="4.8" height="4.8" fill="#00f"/>
<rect x="431.4" y="996.4" width="4.8" height="4.8" fill="#00f"/>
<rect x="437.6" y="987.6" width="4.8" height="4.8" fill="#00f"/>
<rect x="449.6" y="998.1" width="4.8" height="4.8" fill="#00f"/>
<rect x="460.6" y="1011.4" width="4.8" height="4.8" fill="#00f"/>
<rect x="474.4" y="1021.9" width="4.8" height="4.8" fill="#00f"/>
<rect x="490.1" y="1023.4" width="4.8" height="4.8" fill="#00f"/>
<rect x="503.9" y="1018.4" width="4.8" height="4.8" fill="#00f"/>
<rect x="519.6" y="1012.1" width="4.8" height="4.8" fill="#00f"/>
<rect x="535.6" y="1013.9" width="4.8" height="4.8" fill="#00f"/>
<rect x="551.4" y="1013.9" width="4.8" height="4.8" fill="#00f"/>
<rect x="565.9" y="1008.9" width="4.8" height="4.8" fill="#00f"/>
<rect x="581.4" y="1003.1" width="4.8" height="4.8" fill="#00f"/>
<rect x="594.4" y="1012.6" width="4.8" height="4.8" fill="#00f"/>
<rect x="605.6" y="1023.9" width="4.8" height="4.8" fill="#00f"/>
<rect x="622.1" y="1031.6" width="4.8" height="4.8" fill="#00f"/>
<rect x="633.1" y="1024.6" width="4.8" height="4.8" fill="#00f"/>
<rect x="640.9" y="1010.9" width="4.8" height="4.8" fill="#00f"/>
<rect x="648.9" y="996.4" width="4.8" height="4.8" fill="#00f"/>
<rect x="656.9" y="982.1" width="4.8" height="4.8" fill="#00f"/>
<rect x="667.1" y="969.6" width="4.8" height="4.8" fill="#00f"/>
<rect x="682.1" y="964.6" width="4.8" height="4.8" fill="#00f"/>
<rect x="697.1" y="972.1" width="4.8" height="4.8" fill="#00f"/>
<rect x="709.4" y="977.6" width="4.8" height="4.8" fill="#00f"/>
<rect x="721.9" y="987.6" width="4.8" height="4.8" fill="#00f"/>
<rect x="734.4" y="1000.1" width="4.8" height="4.8" fill="#00f"/>
<rect x="746.4" y="1012.1" width="4.8" height="4.8" fill="#00f"/>
<rect x="760.1" y="1024.6" width="4.8" height="4.8" fill="#00f"/>
<rect x="776.4" y="1030.6" width="4.8" height="4.8" fill="#00f"/>
<rect x="792.1" y="1030.6" width="4.8" height="4.8" fill="#00f"/>
<rect x="807.6" y="1030.6" width="4.8" height="4.8" fill="#00f"/>
<rect x="822.8" y="1037.0" width="4.8" height="4.8" fill="#00f"/>
<rect x="837.3" y="1043.4" width="4.8" height="4.8" fill="#00f"/>
<rect x="849.7" y="1053.7" width="4.8" height="4.8" fill="#00f"/>
<rect x="863.5" y="1062.9" width="4.8" height="4.8" fill="#00f"/>
<rect x="878.7" y="1064.6" width="4.8" height="4.8" fill="#00f"/>
<rect x="891.1" y="1057.6" width="4.8" height="4.8" fill="#00f"/>
<rect x="904.9" y="1046.2" width="4.8" height="4.8" fill="#00f"/>
<rect x="920.1" y="1038.3" width="4.8" height="4.8" fill="#00f"/>
<rect x="933.9" y="1045.2" width="4.8" height="4.8" fill="#00f"/>
<rect x="940.8" y="1060.0" width="4.8" height="4.8" fill="#00f"/>
<rect x="948.1" y="1075.1" width="4.8" height="4.8" fill="#00f"/>
<rect x="960.8" y="1073.8" width="4.8" height="4.8" fill="#00f"/>
</g>
<rect x="100.5" y="1052.5" width="87" height="423" fill="rgb(225,225,225)" fill-opacity="0.38" stroke="rgba(255,0,0,0.5)" stroke-width="2.6"/>
<rect x="676" y="861" width="290" height="94.6" fill="none" stroke="#555" stroke-width="1.6"/>
<line x1="681.5" y1="884.6" x2="762" y2="884.6" stroke="#f00" stroke-width="5.5" stroke-linecap="round"/>
<rect x="678.6" y="927.6" width="4.8" height="4.8" fill="#00f"/>
<rect x="694.8" y="927.6" width="4.8" height="4.8" fill="#00f"/>
<rect x="711.0" y="927.6" width="4.8" height="4.8" fill="#00f"/>
<rect x="727.2" y="927.6" width="4.8" height="4.8" fill="#00f"/>
<rect x="743.4" y="927.6" width="4.8" height="4.8" fill="#00f"/>
<rect x="759.6" y="927.6" width="4.8" height="4.8" fill="#00f"/>
<text x="771" y="898.6" font-size="34" text-anchor="start" letter-spacing="0.8">AVA</text>
<text x="771" y="942.8" font-size="34" text-anchor="start" letter-spacing="0.5">Slotted AVA</text>
</svg>
</body></html>
